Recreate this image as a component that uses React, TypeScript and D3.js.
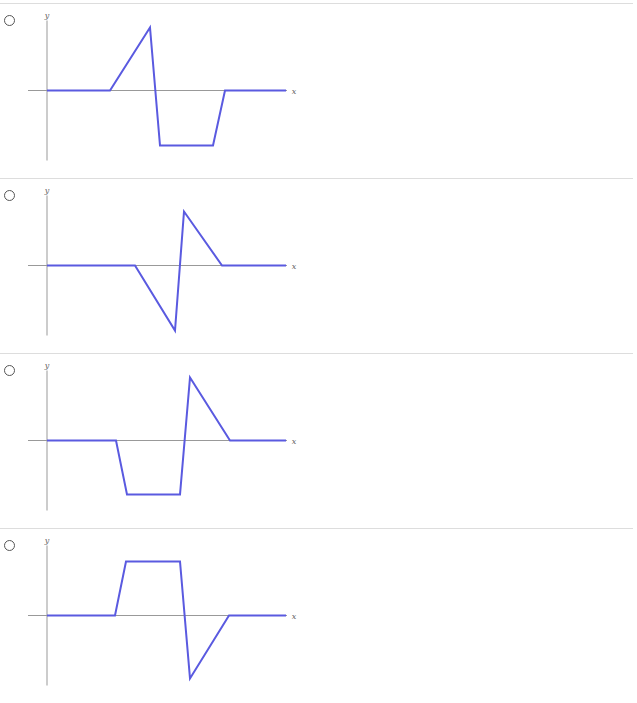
import * as d3 from 'd3';
import React from 'react';

// four answer choices, each a piecewise-linear curve (x offset, y value)
const choiceX1 = [0, 6.3, 10.3, 11.3, 16.6, 17.8, 23.9];
const choiceY1 = [0, 0, 6.3, -5.5, -5.5, 0, 0];
const choiceX2 = [0, 8.8, 12.8, 13.7, 17.5, 23.9];
const choiceY2 = [0, 0, -6.5, 5.4, 0, 0];
const choiceX3 = [0, 6.9, 8.0, 13.3, 14.3, 18.3, 23.9];
const choiceY3 = [0, 0, -5.4, -5.4, 6.3, 0, 0];
const choiceX4 = [0, 6.8, 7.9, 13.3, 14.3, 18.2, 23.9];
const choiceY4 = [0, 0, 5.4, 5.4, -6.3, 0, 0];

const choices = [
  [choiceX1, choiceY1],
  [choiceX2, choiceY2],
  [choiceX3, choiceY3],
  [choiceX4, choiceY4],
];

const W = 637;
const H = 703;
const panelH = 175;

const App = () => {
  const x = d3.scaleLinear().domain([-1.9, 24]).range([28, 287]);

  return (
    <svg
      width={W}
      height={H}
      style={{ position: 'absolute', left: 0, top: 0, background: '#fff' }}
    >
      {choices.map(([xs, ys], i) => {
        const top = 3 + i * panelH;
        const y = d3.scaleLinear().domain([-7, 7]).range([top + 157.5, top + 17.5]);
        const line = d3
          .line<number>()
          .x((_, j) => x(xs[j]))
          .y((d) => y(d));
        return (
          <g key={i}>
            <line x1={0} x2={633} y1={top + 0.5} y2={top + 0.5} stroke="#ddd" strokeWidth={1} />
            <circle cx={9.5} cy={top + 17.5} r={5} fill="#fff" stroke="#555" strokeWidth={1} />
            {/* axes */}
            <line x1={x(-1.9)} x2={x(24)} y1={y(0)} y2={y(0)} stroke="#999" strokeWidth={1} />
            <line x1={x(0)} x2={x(0)} y1={y(7)} y2={y(-7)} stroke="#999" strokeWidth={1} />
            <text
              x={x(0)}
              y={top + 15}
              textAnchor="middle"
              fontFamily="DejaVu Serif, serif"
              fontStyle="italic"
              fontSize={8}
              fill="#666"
            >
              y
            </text>
            <text
              x={x(24) + 7}
              y={y(0) + 3}
              textAnchor="middle"
              fontFamily="DejaVu Serif, serif"
              fontStyle="italic"
              fontSize={8}
              fill="#666"
            >
              x
            </text>
            <path d={line(ys) || ''} fill="none" stroke="#5a5ae0" strokeWidth={2} strokeLinejoin="miter" />
          </g>
        );
      })}
    </svg>
  );
};

export default App;
